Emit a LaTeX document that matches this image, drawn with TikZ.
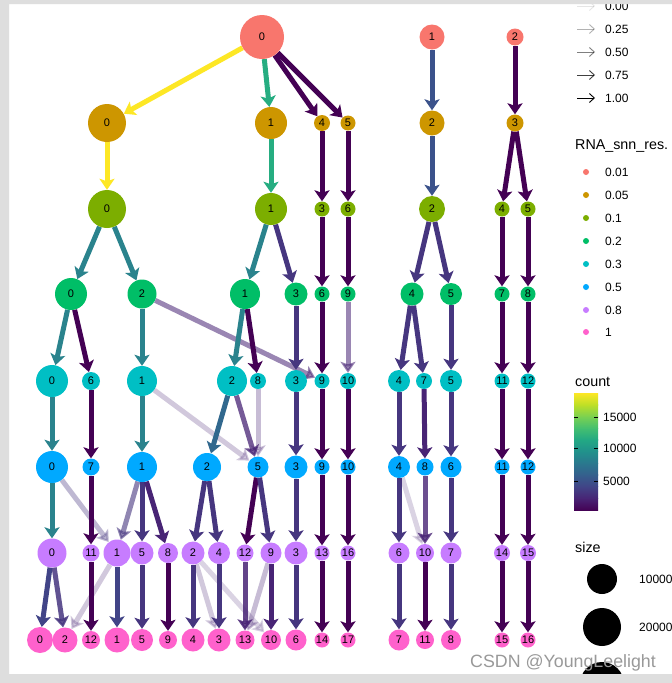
\documentclass[tikz,border=0pt]{standalone}
\usepackage{fontspec}
\setmainfont{Liberation Sans}
\usetikzlibrary{arrows.meta}
\pgfdeclarelayer{bg}
\pgfdeclarelayer{edges}
\pgfsetlayers{bg,edges,main}
% resolution colours
\definecolor{resA}{HTML}{F8766D}
\definecolor{resB}{HTML}{CD9600}
\definecolor{resC}{HTML}{7CAE00}
\definecolor{resD}{HTML}{00BE67}
\definecolor{resE}{HTML}{00BFC4}
\definecolor{resF}{HTML}{00A9FF}
\definecolor{resG}{HTML}{C77CFF}
\definecolor{resH}{HTML}{FF61CC}
% count colours
\definecolor{eyel}{HTML}{FDE725}
\definecolor{egrn}{HTML}{26AD81}
\definecolor{etea}{HTML}{2A838D}
\definecolor{eblu}{HTML}{31688E}
\definecolor{eind}{HTML}{3B528B}
\definecolor{eslt}{HTML}{414487}
\definecolor{epb}{HTML}{46367F}
\definecolor{epur}{HTML}{482475}
\definecolor{edrk}{HTML}{440154}
\definecolor{virA}{HTML}{440154}
\definecolor{virB}{HTML}{482475}
\definecolor{virC}{HTML}{414487}
\definecolor{virD}{HTML}{355F8D}
\definecolor{virE}{HTML}{2A788E}
\definecolor{virF}{HTML}{21918C}
\definecolor{virG}{HTML}{22A884}
\definecolor{virH}{HTML}{44BF70}
\definecolor{virI}{HTML}{7AD151}
\definecolor{virJ}{HTML}{BDDF26}
\definecolor{virK}{HTML}{FDE725}
\begin{document}
\begin{tikzpicture}[x=1pt,y=-1pt,
    cl/.style={circle,inner sep=0pt,font=\fontsize{11}{11}\selectfont},
    edge/.style={draw=#1,line width=5pt,-{Stealth[length=11pt,width=15pt,inset=2.5pt]}},
    lab/.style={anchor=west,inner sep=0pt,font=\fontsize{12}{12}\selectfont},
    ttl/.style={anchor=west,inner sep=0pt,font=\fontsize{14.3}{14.3}\selectfont}]
\useasboundingbox (0,0) rectangle (672,683);
\begin{pgfonlayer}{bg}
  \fill[white] (0,0) rectangle (672,683);
\end{pgfonlayer}
% clusters, one row per resolution
\foreach \l/\px/\rr in {0/262/22,1/432/12.5,2/515/8.5}
  \node[cl,fill=resA,minimum size=2*\rr] (a\l) at (\px,37) {\l};
\foreach \l/\px/\rr in {0/107/19,1/271/16,4/322/8,5/348/7.5,2/432/12.5,3/515/8.5}
  \node[cl,fill=resB,minimum size=2*\rr] (b\l) at (\px,123) {\l};
\foreach \l/\px/\rr in {0/107/19,1/271/16,3/322/7.5,6/348/7.5,2/432/13,4/502/7.5,5/528/7.5}
  \node[cl,fill=resC,minimum size=2*\rr] (c\l) at (\px,209) {\l};
\foreach \l/\px/\rr in {0/71/16,2/142/14.5,1/245/15,3/296/11.5,6/322/7.5,9/348/7.5,4/412/11.5,5/451/11,7/502/7.5,8/528/7.5}
  \node[cl,fill=resD,minimum size=2*\rr] (d\l) at (\px,294) {\l};
\foreach \l/\px/\rr in {0/52/16,6/91/9,1/142/15,2/232/15,8/258/8,3/296/11,9/322/7.5,10/348/8,4/399/11,7/424/8,5/451/11,11/502/7.5,12/528/7.5}
  \node[cl,fill=resE,minimum size=2*\rr] (e\l) at (\px,381) {\l};
\foreach \l/\px/\rr in {0/52/16,7/91/8.5,1/142/15,2/207/14,5/258/10.5,3/296/11.5,9/322/7.5,10/348/7.5,4/399/11,8/425/8.5,6/451/10.5,11/502/7.5,12/528/7.5}
  \node[cl,fill=resF,minimum size=2*\rr] (f\l) at (\px,467) {\l};
\foreach \l/\px/\rr in {0/52/14.5,11/91/8.5,1/117/13.5,5/142/11.5,8/168/10,2/193/11.5,4/219/11,12/245/8.5,9/271/10.5,3/296/11.5,13/322/7.5,16/348/7.5,6/399/10.5,10/425/9,7/451/10.5,14/502/8,15/528/8}
  \node[cl,fill=resG,minimum size=2*\rr] (g\l) at (\px,553) {\l};
\foreach \l/\px/\rr in {0/40/13,2/65/12.5,12/91/9,1/117/12.5,5/142/11,9/168/9,4/193/11.5,3/219/11.5,13/245/9.5,10/271/10,6/296/10.5,14/322/7.5,17/348/7.5,7/399/10.5,11/425/9,8/451/10,15/502/7.5,16/528/7.5}
  \node[cl,fill=resH,minimum size=2*\rr] (h\l) at (\px,640) {\l};
% edges: from/to/colour/opacity
\begin{pgfonlayer}{edges}
\foreach \s/\t/\c/\o in {a0/b0/eyel/1,a0/b1/egrn/1,a0/b4/edrk/1,a0/b5/edrk/1,a1/b2/eind/1,a2/b3/edrk/1,
    b0/c0/eyel/1,b1/c1/egrn/1,b4/c3/edrk/1,b5/c6/edrk/1,b2/c2/eind/1,b3/c4/edrk/1,b3/c5/edrk/1,
    c0/d0/etea/1,c0/d2/etea/1,c1/d1/etea/1,c1/d3/epb/1,c3/d6/edrk/1,c6/d9/edrk/1,c2/d4/epb/1,c2/d5/epb/1,c4/d7/edrk/1,c5/d8/edrk/1,
    d0/e0/etea/1,d0/e6/edrk/1,d2/e1/etea/1,d2/e9/epur/0.55,d1/e2/etea/1,d1/e8/edrk/1,d3/e3/epb/1,d6/e9/edrk/1,d9/e10/epur/0.55,
    d4/e4/epb/1,d4/e7/epb/1,d5/e5/epb/1,d7/e11/edrk/1,d8/e12/edrk/1,
    e0/f0/etea/1,e6/f7/edrk/1,e1/f1/etea/1,e1/f5/epur/0.25,e2/f2/eblu/1,e2/f5/epur/0.75,e8/f5/epur/0.3,e3/f3/epb/1,
    e9/f9/edrk/1,e10/f10/edrk/1,e4/f4/epb/1,e7/f8/epur/1,e5/f6/epb/1,e11/f11/edrk/1,e12/f12/edrk/1,
    f0/g0/etea/1,f0/g1/epb/0.35,f7/g11/edrk/1,f1/g1/epb/0.6,f1/g5/epb/1,f1/g8/epur/1,f2/g2/epb/1,f2/g4/epb/1,
    f5/g12/edrk/1,f5/g9/epb/1,f3/g3/epb/1,f9/g13/edrk/1,f10/g16/edrk/1,f4/g6/epb/1,f4/g10/epur/0.2,f8/g10/epur/0.8,
    f6/g7/epb/1,f11/g14/edrk/1,f12/g15/edrk/1,
    g0/h0/eslt/1,g0/h2/epb/0.85,g1/h2/epur/0.25,g1/h1/eslt/1,g11/h12/edrk/1,g5/h5/epb/1,g8/h9/edrk/1,
    g2/h4/epb/1,g2/h3/epur/0.25,g2/h10/epur/0.2,g4/h3/epb/1,g12/h13/epur/0.85,g9/h13/epur/0.3,g9/h10/epur/1,
    g3/h6/epb/1,g13/h14/edrk/1,g16/h17/edrk/1,g6/h7/epb/1,g10/h11/edrk/1,g7/h8/epb/1,g14/h15/edrk/1,g15/h16/edrk/1}
  \draw[edge=\c,opacity=\o] (\s) -- (\t);
\end{pgfonlayer}
% legend: in_prop
\foreach \v/\o/\y in {0.00/0.1/6,0.25/0.3/29,0.50/0.5/52,0.75/0.75/75,1.00/1/98}{
  \draw[black,opacity=\o,line width=0.9pt,-{Straight Barb[length=5pt,width=9pt]}] (577,\y) -- (595,\y);
  \node[lab] (p\y) at (605,\y) {\v};
}
% legend: resolution
\node[ttl] (tres) at (575,146) {RNA\_snn\_res.};
\foreach \v/\c/\y in {0.01/resA/172,0.05/resB/195,0.1/resC/218,0.2/resD/241,0.3/resE/264,0.5/resF/287,0.8/resG/310,1/resH/332}{
  \fill[\c] (586,\y) circle (3);
  \node[lab] (k\y) at (605,\y) {\v};
}
% legend: count
\node[ttl] (tcount) at (575,382) {count};
\foreach \i/\cb/\ct in {0/virA/virB,1/virB/virC,2/virC/virD,3/virD/virE,4/virE/virF,5/virF/virG,6/virG/virH,7/virH/virI,8/virI/virJ,9/virJ/virK}
  \shade[bottom color=\cb,top color=\ct] (574,{510-11.7*\i+0.3}) rectangle (598,{498.3-11.7*\i});
\foreach \v/\y in {15000/417,10000/448,5000/481}{
  \draw[line width=0.6pt] (574,\y) -- (578,\y) (594,\y) -- (598,\y);
  \node[lab] (c\v) at (603,\y) {\v};
}
% legend: size
\node[ttl] (tsize) at (575,547) {size};
\fill (602,579) circle (15);
\fill (602,627) circle (19);
\fill (602,684) circle (22);
\node[lab] (s1) at (639,579) {10000};
\node[lab] (s2) at (639,627) {20000};
\node[lab] (s3) at (639,680) {30000};
\node[anchor=west,inner sep=0pt,text=black!40,font=\fontsize{17.8}{18}\selectfont] (wm) at (470,663) {CSDN @YoungLeelight};
% screenshot frame
\fill[black!13] (0,0) rectangle (9,683) (0,0) rectangle (672,4) (0,674) rectangle (672,683);
\end{tikzpicture}
\end{document}
